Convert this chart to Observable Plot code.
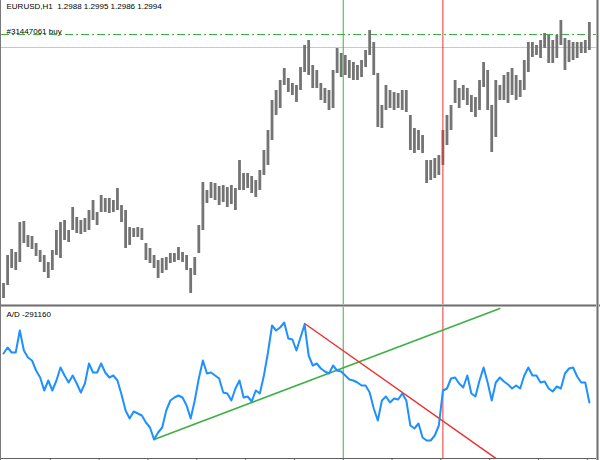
<!DOCTYPE html>
<html><head><meta charset="utf-8">
<script src="https://cdn.jsdelivr.net/npm/d3@7"></script>
<script src="https://cdn.jsdelivr.net/npm/@observablehq/plot@0.6"></script>
<style>
html,body{margin:0;padding:0;background:#fff;}
#wrap{position:relative;width:600px;height:460px;overflow:hidden;background:#fff;}
#main{position:absolute;left:0;top:0;}
#ad{position:absolute;left:0;top:307px;}
#sepH{position:absolute;left:0;top:304px;width:600px;height:3px;background:linear-gradient(#b4b4b4 0 1px,#6e6e6e 1px 2px,#b4b4b4 2px 3px);}
#sepR{position:absolute;left:596px;top:0;width:3px;height:460px;background:linear-gradient(90deg,#b4b4b4 0 1px,#6e6e6e 1px 2px,#b4b4b4 2px 3px);}
#sepL{position:absolute;left:0;top:0;width:1px;height:460px;background:#7a7a7a;}
svg text{white-space:pre;}
</style>
</head><body>
<div id="wrap"><div id="main"></div><div id="ad"></div><div id="sepH"></div><div id="sepR"></div><div id="sepL"></div></div>
<script>
// ---- data ----
const titleText = "EURUSD,H1  1.2988 1.2995 1.2986 1.2994";
const orderLabel = "#31447061 buy";
const adLabel = "A/D -291160";
const bidPrice = 1.2994;
const orderPrice = 1.3007;
const greenVLine = 168;   // hour index
const redVLine = 217;     // hour index
const dayTicks = [24, 48, 72, 96, 120, 144, 168, 192, 216, 240, 264, 288];

// one entry per 2-hour bar
const highs = [
1.2758,1.2786,1.2792,1.2789,1.2819,1.2820,1.2806,1.2805,1.2798,1.2791,
1.2786,1.2779,1.2791,1.2811,1.2819,1.2821,1.2811,1.2834,1.2824,1.2821,
1.2823,1.2831,1.2841,1.2829,1.2846,1.2843,1.2843,1.2841,1.2853,1.2836,
1.2831,1.2814,1.2813,1.2814,1.2813,1.2798,1.2793,1.2786,1.2781,1.2783,
1.2784,1.2788,1.2788,1.2794,1.2789,1.2786,1.2773,1.2784,1.2816,1.2859,
1.2851,1.2859,1.2858,1.2855,1.2856,1.2854,1.2856,1.2853,1.2881,1.2868,
1.2868,1.2865,1.2861,1.2871,1.2891,1.2911,1.2941,1.2951,1.2961,1.2973,
1.2963,1.2958,1.2956,1.2974,1.2996,1.3001,1.2976,1.2971,1.2958,1.2953,
1.2951,1.2971,1.2993,1.2988,1.2986,1.2981,1.2979,1.2976,1.2981,1.2991,
1.3011,1.2999,1.2968,1.2936,1.2956,1.2951,1.2949,1.2948,1.2951,1.2951,
1.2926,1.2913,1.2911,1.2906,1.2881,1.2881,1.2883,1.2886,1.2911,1.2926,
1.2936,1.2961,1.2953,1.2956,1.2953,1.2946,1.2944,1.2961,1.2979,1.2971,
1.2936,1.2961,1.2956,1.2966,1.2969,1.2973,1.2966,1.2961,1.2981,1.2999,
1.2999,1.2996,1.3001,1.3008,1.3006,1.3001,1.3006,1.3021,1.3003,1.3001,
1.2999,1.2999,1.2999,1.3001,1.3019];
const lows = [
1.2743,1.2756,1.2773,1.2771,1.2779,1.2798,1.2794,1.2792,1.2785,1.2779,
1.2769,1.2763,1.2771,1.2786,1.2783,1.2801,1.2799,1.2811,1.2808,1.2807,
1.2809,1.2811,1.2821,1.2816,1.2829,1.2829,1.2828,1.2829,1.2831,1.2819,
1.2793,1.2796,1.2804,1.2804,1.2801,1.2781,1.2778,1.2773,1.2763,1.2768,
1.2771,1.2778,1.2779,1.2781,1.2779,1.2771,1.2748,1.2766,1.2788,1.2811,
1.2838,1.2843,1.2841,1.2836,1.2839,1.2834,1.2837,1.2831,1.2851,1.2851,
1.2853,1.2848,1.2844,1.2851,1.2866,1.2876,1.2901,1.2926,1.2933,1.2956,
1.2949,1.2946,1.2939,1.2951,1.2969,1.2966,1.2953,1.2953,1.2941,1.2938,
1.2931,1.2933,1.2968,1.2964,1.2966,1.2963,1.2961,1.2961,1.2964,1.2974,
1.2986,1.2966,1.2914,1.2913,1.2931,1.2933,1.2931,1.2933,1.2931,1.2929,
1.2891,1.2888,1.2891,1.2888,1.2858,1.2861,1.2863,1.2866,1.2876,1.2896,
1.2911,1.2938,1.2933,1.2941,1.2936,1.2929,1.2924,1.2931,1.2954,1.2931,
1.2889,1.2904,1.2941,1.2941,1.2938,1.2946,1.2941,1.2944,1.2951,1.2969,
1.2984,1.2986,1.2983,1.2993,1.2978,1.2978,1.2983,1.2996,1.2971,1.2979,
1.2981,1.2983,1.2988,1.2988,1.2991];
const adValues = [
-242160,-236160,-241160,-241160,-219160,-239160,-246160,-249160,-259160,-266160,
-279160,-269160,-279160,-269160,-256160,-264160,-271160,-264160,-272160,-281160,
-272160,-252160,-261160,-261160,-252160,-261160,-266160,-264160,-269160,-283160,
-299160,-307160,-300160,-302160,-304160,-311160,-316160,-328160,-321160,-316160,
-299160,-289160,-286160,-284160,-286160,-294160,-307160,-289160,-267160,-249160,
-262160,-261160,-264160,-267160,-281160,-282160,-289160,-277160,-269160,-286160,
-285160,-290160,-279160,-282160,-264160,-241160,-214160,-219160,-216160,-211160,
-227160,-228160,-239160,-226160,-213160,-244160,-254160,-252160,-257160,-260160,
-262160,-254160,-259160,-260160,-264160,-268160,-269160,-271160,-274160,-274160,
-281160,-297160,-309160,-289160,-285160,-291160,-287160,-288160,-282160,-289160,
-314160,-317160,-312160,-326160,-329160,-329160,-324160,-314160,-279160,-277160,
-267160,-266160,-272160,-276160,-264160,-282160,-285160,-269160,-256160,-271160,
-289160,-271160,-266160,-270160,-273160,-277160,-274160,-277160,-264160,-256160,
-264160,-264160,-271160,-270160,-277160,-280160,-275160,-277160,-262160,-257160,
-256160,-265160,-271160,-271160,-291160];
const greenTrend = [{t: 75, v: -328160}, {t: 245, v: -197160}];
const redTrend = [{t: 149, v: -212160}, {t: 245, v: -349860}];

// ---- build ----
const bars = highs.map((h, i) => ({t: 2 * i + 1, high: h, low: lows[i]}));
const adData = adValues.map((v, i) => ({t: 2 * i + 1, v}));
const font = {fontFamily: "'Liberation Sans', Arial, sans-serif", fontSize: "8px", background: "transparent", color: "#000"};
const xScale = {domain: [0, 293], range: [1, 597]};
const green = "#3cb043", red = "#f03030";

const main = Plot.plot({
  width: 600, height: 304,
  marginTop: 0, marginBottom: 0, marginLeft: 1, marginRight: 3,
  x: {...xScale, axis: null},
  y: {domain: [1.3041, 1.2737], range: [0, 304], axis: null},
  style: font,
  marks: [
    Plot.ruleY([bidPrice], {stroke: "#c8c8c8"}),
    Plot.ruleY([orderPrice], {stroke: green, strokeDasharray: "8,3,2,3"}),
    Plot.ruleX(bars, {x: "t", y1: "low", y2: "high", stroke: "#747474", strokeWidth: 2.8}),
    Plot.ruleX([greenVLine], {stroke: green}),
    Plot.ruleX([redVLine], {stroke: red}),
    Plot.text([titleText], {frameAnchor: "top-left", dx: 5, dy: 3, fill: "#000"}),
    Plot.text([orderLabel], {frameAnchor: "left", y: () => orderPrice, dx: 5, dy: -1, lineAnchor: "bottom", fill: "#000"})
  ]
});
document.getElementById("main").appendChild(main);

const adTop = -196160, adBottom = -347160;
const ad = Plot.plot({
  width: 600, height: 153,
  marginTop: 0, marginBottom: 2, marginLeft: 1, marginRight: 3,
  x: xScale,
  y: {domain: [adTop, adBottom], range: [0, 151], axis: null},
  style: font,
  marks: [
    Plot.ruleY([adBottom], {stroke: "#606060"}),
    Plot.axisX({ticks: dayTicks, tickSize: 3, tickFormat: () => "", label: null, anchor: "bottom", stroke: "#606060"}),
    Plot.ruleX([greenVLine], {stroke: green}),
    Plot.ruleX([redVLine], {stroke: red}),
    Plot.line(greenTrend, {x: "t", y: "v", stroke: green, clip: true}),
    Plot.line(redTrend, {x: "t", y: "v", stroke: red, clip: true}),
    Plot.line(adData, {x: "t", y: "v", stroke: "#1e90ff", strokeWidth: 2}),
    Plot.text([adLabel], {frameAnchor: "top-left", dx: 5, dy: 4, fill: "#000"})
  ]
});
document.getElementById("ad").appendChild(ad);
</script>
</body></html>
